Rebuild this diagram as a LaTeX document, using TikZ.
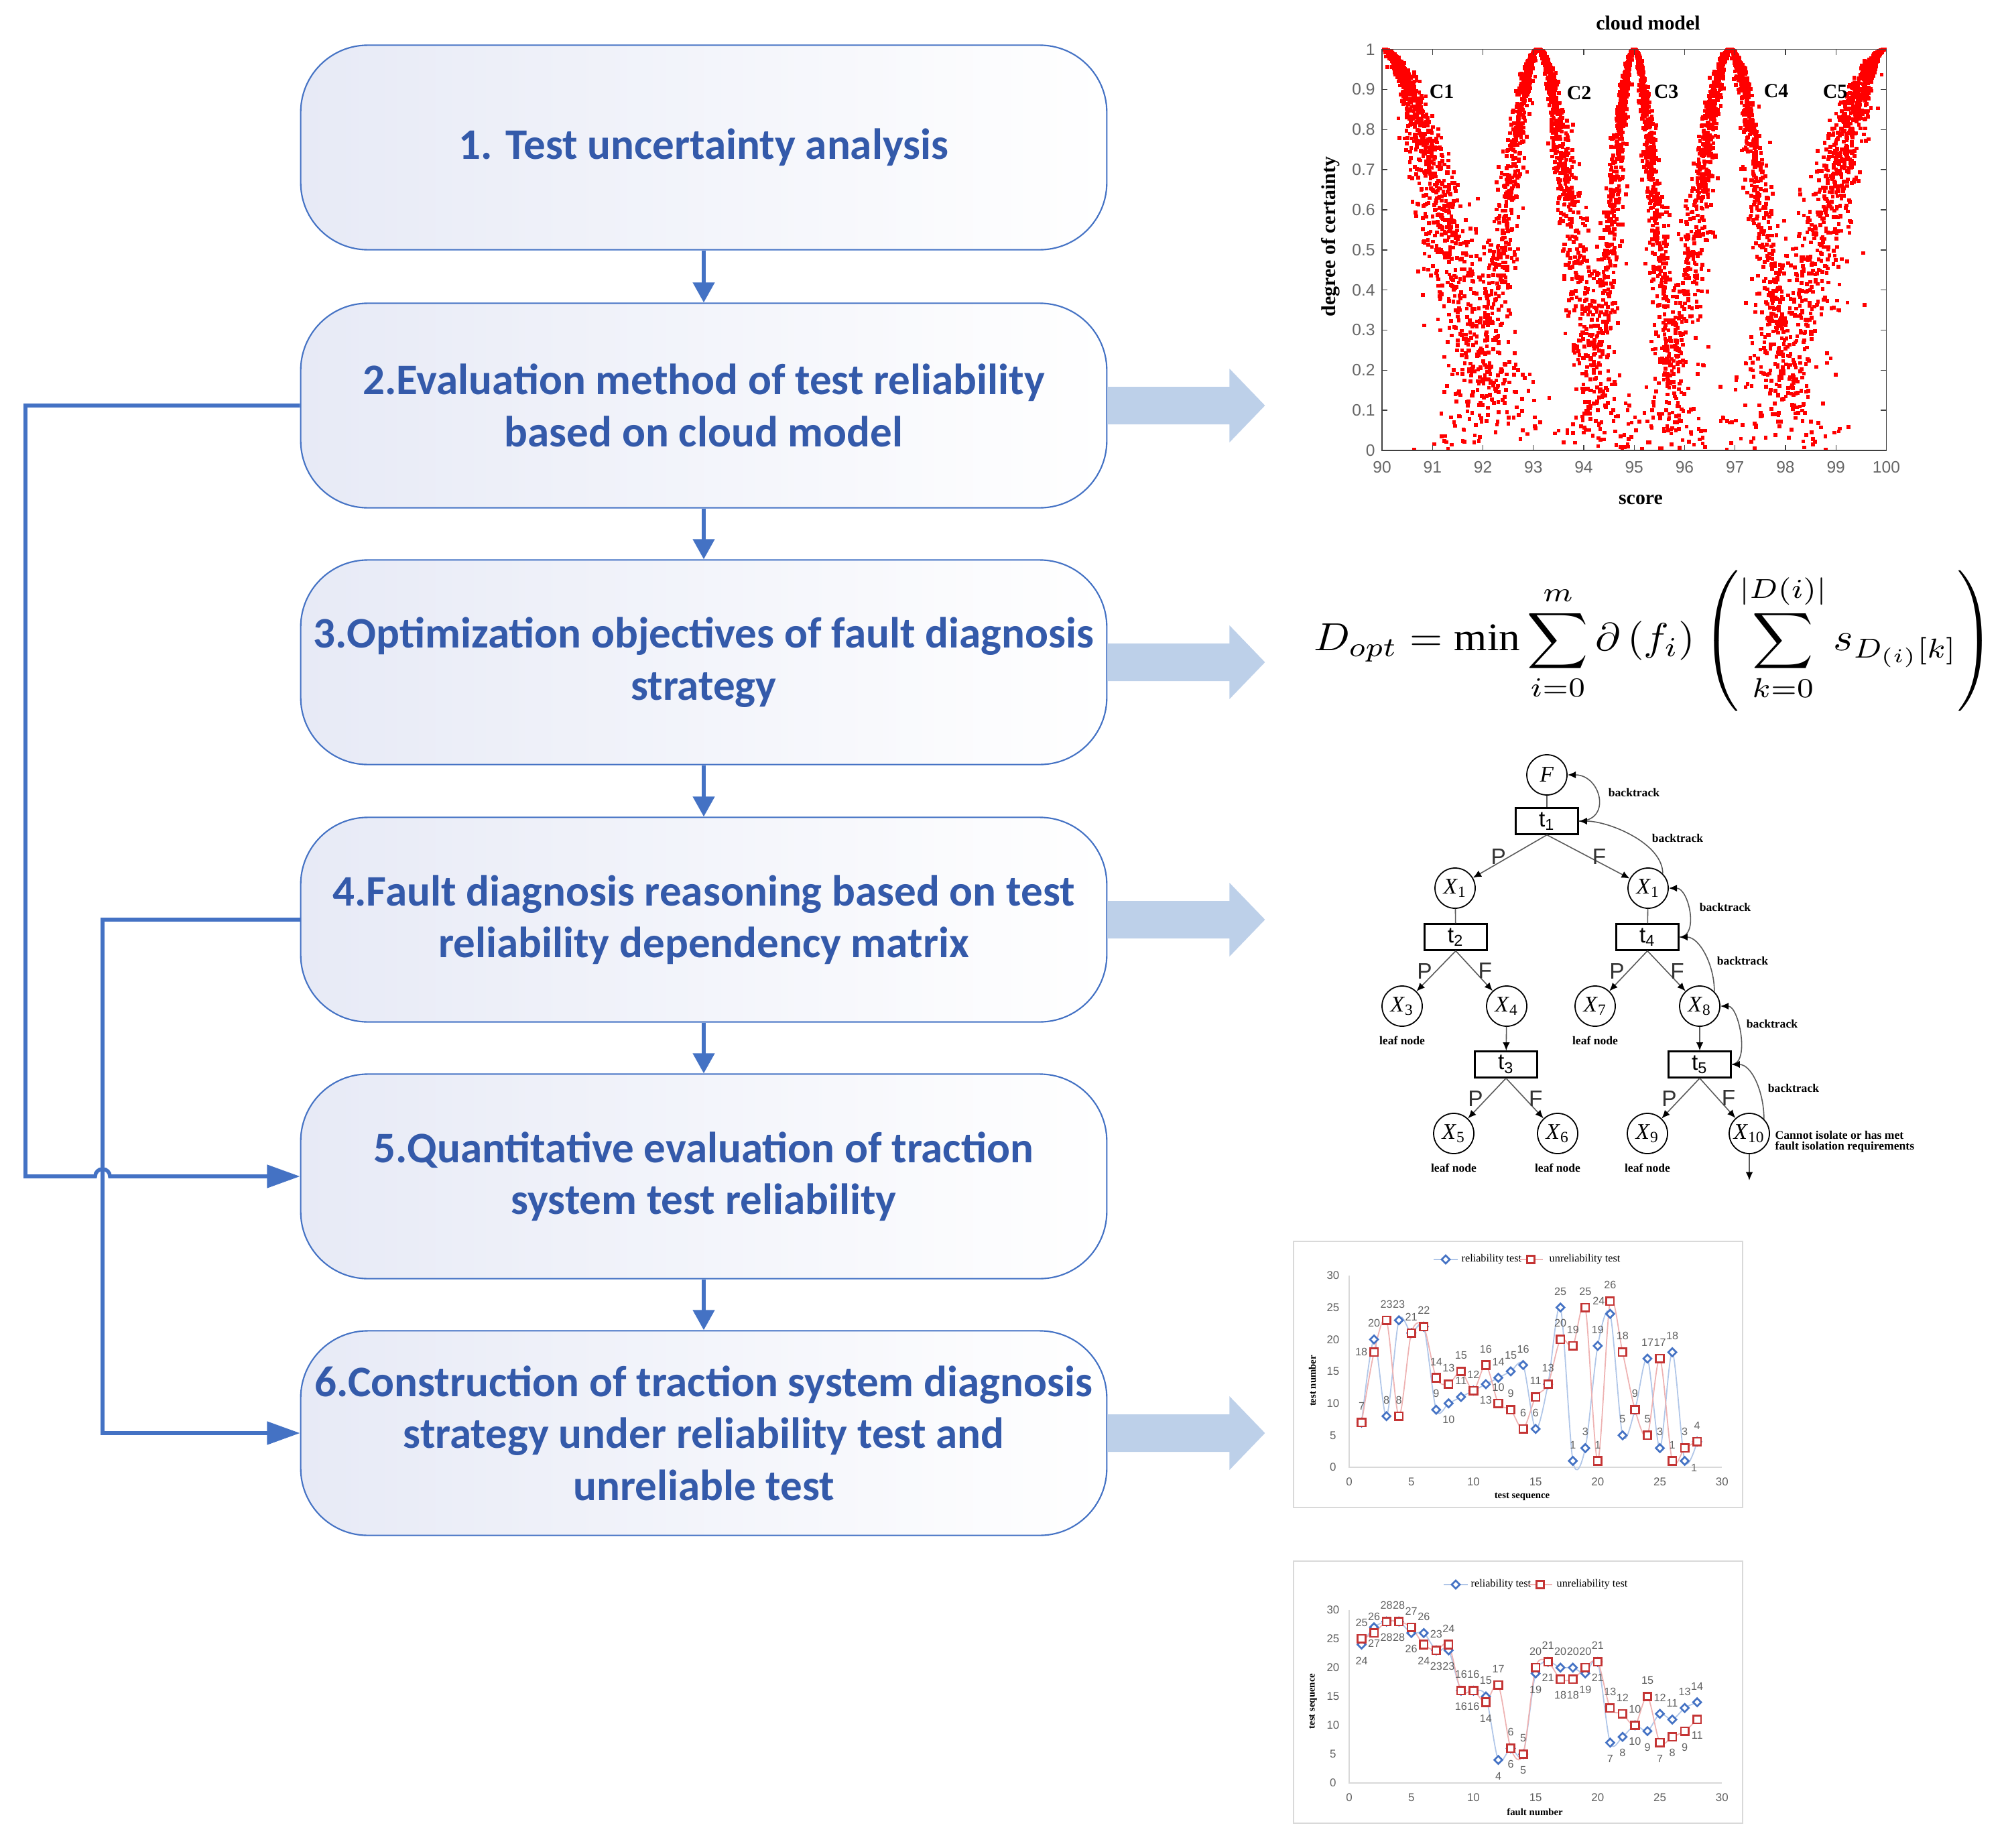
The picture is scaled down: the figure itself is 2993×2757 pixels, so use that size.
\documentclass[tikz,border=0pt]{standalone}
\usepackage{fontspec}
\usepackage{amsmath}
\usepackage{graphicx}
\setmainfont{Liberation Serif}
\newfontfamily\carlito{Carlito}
\newfontfamily\arial{Liberation Sans}
\usetikzlibrary{arrows.meta,shapes.geometric}

\definecolor{flowblue}{RGB}{68,114,196}
\definecolor{boxtext}{RGB}{52,90,170}
\definecolor{boxtop}{RGB}{231,234,246}
\definecolor{bigarrow}{RGB}{189,208,233}
\definecolor{cloudred}{RGB}{255,0,0}
\definecolor{relblue}{RGB}{68,114,196}
\definecolor{relline}{RGB}{176,198,232}
\definecolor{unrred}{RGB}{196,52,52}
\definecolor{unrline}{RGB}{238,178,178}
\definecolor{labgray}{RGB}{96,96,96}
\definecolor{framegray}{RGB}{217,217,217}

\newcommand\xlab[1]{\textit{X}\textsubscript{#1}}
\newcommand\tlab[1]{{\arial t\textsubscript{#1}}}

\tikzset{
  stage/.style={draw=flowblue, line width=0.6pt, rounded corners=1cm,
    left color=boxtop, right color=white, minimum width=12.02cm,
    minimum height=3.05cm, inner sep=0pt, align=center, text=boxtext,
    font=\carlito\bfseries\fontsize{18.5}{22}\selectfont},
  flow/.style={flowblue, line width=1.5pt, -{Triangle[length=8.5pt,width=9pt]}},
  link/.style={flowblue, line width=1.6pt, -{Triangle[length=14pt,width=9.6pt]}},
  bigarrow/.style={fill=bigarrow},
  % nuage
  mframe/.style={draw=black!75, line width=0.4pt},
  mtick/.style={font=\arial\fontsize{7}{7}\selectfont, text=black!60, inner sep=0pt},
  mlab/.style={font=\bfseries\fontsize{8.5}{9}\selectfont, inner sep=0pt},
  % arbre
  cnode/.style={circle, draw, line width=0.5pt, minimum size=0.6cm, inner sep=0pt,
    font=\fontsize{9.5}{10}\selectfont},
  tbox/.style={rectangle, draw, line width=0.6pt, minimum width=0.93cm,
    minimum height=0.39cm, inner sep=0pt, font=\fontsize{9.5}{10}\selectfont},
  leaflab/.style={font=\bfseries\fontsize{5}{5}\selectfont, inner sep=0.5pt},
  leaf/.style={label={[leaflab, label distance=0.12cm]below:leaf node}},
  tline/.style={draw=black!65, line width=0.45pt},
  tarrow/.style={tline, -{Latex[length=3.5pt,width=3pt,color=black]}},
  back/.style={draw=black!65, line width=0.45pt, -{Latex[length=3.5pt,width=3pt,color=black]}},
  blab/.style={font=\bfseries\fontsize{5}{5}\selectfont, inner sep=0pt},
  flab/.style={font=\arial\fontsize{9.5}{10}\selectfont, text=black!80, inner sep=1.5pt},
  % courbes
  chartframe/.style={draw=framegray, line width=0.5pt},
  axisgray/.style={draw=framegray, line width=0.4pt},
  bline/.style={draw=relline, line width=0.5pt},
  rline/.style={draw=unrline, line width=0.5pt},
  bmark/.style={diamond, aspect=1, draw=relblue, fill=white, line width=0.75pt,
    minimum size=0.13cm, inner sep=0pt},
  rmark/.style={rectangle, draw=unrred, fill=white, line width=0.75pt,
    minimum size=0.115cm, inner sep=0pt},
  dlab/.style={font=\arial\fontsize{4.6}{5}\selectfont, text=labgray, inner sep=0pt},
  lp a/.style={yshift=0.24cm},
  lp b/.style={yshift=-0.24cm},
  lp l/.style={xshift=-0.19cm},
  lp al/.style={xshift=-0.17cm, yshift=0.19cm},
  lp br/.style={xshift=0.14cm, yshift=-0.1cm},
  lp n/.style={text opacity=0},
  ctick/.style={font=\arial\fontsize{4.8}{5}\selectfont, text=labgray, inner sep=0pt},
  ctitle/.style={font=\bfseries\fontsize{4.2}{5}\selectfont, inner sep=0pt},
  legtext/.style={font=\fontsize{4.6}{5}\selectfont, inner sep=0pt, anchor=west},
}

\begin{document}
\begin{tikzpicture}[x=0.01cm, y=-0.01cm]
  \useasboundingbox (0,0) rectangle (2993,2757);

  % Les six étapes
  \node[stage] (b1) at (1050,220) {1. Test uncertainty analysis};
  \node[stage] (b2) at (1050,605) {2.Evaluation method of test reliability\\based on cloud model};
  \node[stage] (b3) at (1050,988) {3.Optimization objectives of fault diagnosis\\strategy};
  \node[stage] (b4) at (1050,1372) {4.Fault diagnosis reasoning based on test\\reliability dependency matrix};
  \node[stage] (b5) at (1050,1755) {5.Quantitative evaluation of traction\\system test reliability};
  \node[stage] (b6) at (1050,2138) {6.Construction of traction system diagnosis\\strategy under reliability test and\\unreliable test};

  \foreach \a/\b in {b1/b2,b2/b3,b3/b4,b4/b5,b5/b6}
    \draw[flow] (\a.south) -- (\b.north);

  % Liaisons de gauche
  \coordinate (railA) at (38,0);
  \coordinate (railB) at (153,0);
  \draw[link] (b2.west) -- (b2.west -| railA) -- (railA |- b5.west) -- ++(104,0)
    arc[start angle=180, end angle=360, radius=11] -- (b5.west);
  \draw[link] (b4.west) -- (b4.west -| railB) -- (railB |- b6.west) -- (b6.west);

  % Grosses flèches
  \foreach \b in {b2,b3,b4,b6}
    \fill[bigarrow] (\b.east) ++(0,-28) -- ++(182,0) -- ++(0,-27) -- ++(53,55)
      -- ++(-53,55) -- ++(0,-27) -- ++(-182,0) -- cycle;

  % Modèle de nuage
  \node[mlab] (ctitle) at (2459,34) {cloud model};
  \node[mlab] (cscore) at (2448,746) {score};
  \node[mlab, rotate=90] (cdeg) at (1985,353) {degree of certainty};
  \begin{scope}[shift={(2062,672)}, x=0.752cm, y=5.98cm]
    \begin{scope}[fill=cloudred]
      \clip (0,0) rectangle (10,1.004);
      \pgfmathsetseed{2024}
      \foreach \ex/\en/\sd/\num in {0/1.15/1/1100, 3.1/0.62/0/1450, 5/0.42/0/1350, 6.9/0.62/0/1450, 10/1.15/-1/1100} {
        \foreach \k in {1,...,\num} {
          \pgfmathsetmacro\rr{sqrt(-2*ln(0.0001+0.9999*rnd))}
          \pgfmathsetmacro\aa{360*rnd}
          \pgfmathsetmacro\ga{\rr*cos(\aa)}
          \pgfmathsetmacro\gb{\rr*sin(\aa)}
          \pgfmathsetmacro\gx{\sd==0 ? (\ga) : \sd*abs(\ga)}
          \pgfmathsetmacro\px{\ex+\en*(1+0.22*(\gb))*(\gx)}
          \pgfmathsetmacro\py{exp(-0.5*(\ga)*(\ga))}
          \fill (\px,\py) ++(-0.8pt,-0.8pt) rectangle ++(1.6pt,1.6pt);
        }
      }
    \end{scope}
    \draw[mframe] (0,0) rectangle (10,1);
    \foreach \i in {0,...,10} {
      \draw[mframe] (\i,0) -- (\i,0.0134) (\i,1) -- (\i,0.9866);
      \pgfmathtruncatemacro\sc{90+\i}
      \node[mtick] (sx\i) at (\i,-0.042) {\sc};
    }
    \foreach \j/\t in {0/0,1/0.1,2/0.2,3/0.3,4/0.4,5/0.5,6/0.6,7/0.7,8/0.8,9/0.9,10/1} {
      \draw[mframe] (0,\j/10) -- (0.106,\j/10) (10,\j/10) -- (9.894,\j/10);
      \node[mtick, anchor=east] (sy\j) at (-0.13,\j/10) {\t};
    }
  \end{scope}
  \node[mlab] (c1) at (2151,137) {C1};
  \node[mlab] (c2) at (2356,139) {C2};
  \node[mlab] (c3) at (2486,137) {C3};
  \node[mlab] (c4) at (2650,136) {C4};
  \node[mlab] (c5) at (2738,137) {C5};

  % Formule
  \node[inner sep=0pt] (dopt) at (2468,956) {\resizebox*{10.15cm}{2.1cm}{$\displaystyle
    D_{opt}=\min\sum_{i=0}^{m}\partial\left(f_i\right)\left(\sum_{k=0}^{\left|D(i)\right|}s_{D_{(i)}[k]}\right)$}};

  % Arbre de diagnostic
  \node[cnode] (F) at (2308,1156) {\textit{F}};
  \node[tbox] (t1) at (2308,1225) {\tlab{1}};
  \node[cnode] (x1l) at (2171,1325) {\xlab{1}};
  \node[cnode] (x1r) at (2459,1325) {\xlab{1}};
  \node[tbox] (t2) at (2172,1398) {\tlab{2}};
  \node[tbox] (t4) at (2458,1398) {\tlab{4}};
  \node[cnode, leaf] (x3) at (2092,1501) {\xlab{3}};
  \node[cnode] (x4) at (2248,1501) {\xlab{4}};
  \node[cnode, leaf] (x7) at (2380,1501) {\xlab{7}};
  \node[cnode] (x8) at (2536,1501) {\xlab{8}};
  \node[tbox] (t3) at (2247,1588) {\tlab{3}};
  \node[tbox] (t5) at (2536,1588) {\tlab{5}};
  \node[cnode, leaf] (x5) at (2169,1691) {\xlab{5}};
  \node[cnode, leaf] (x6) at (2324,1691) {\xlab{6}};
  \node[cnode, leaf] (x9) at (2458,1691) {\xlab{9}};
  \node[cnode] (x10) at (2610,1691) {\xlab{10}};
  \coordinate (xout) at (2610,1761);
  \node[blab, anchor=west, align=left, font=\bfseries\fontsize{5}{4.6}\selectfont] (cannot) at (2648,1703)
    {Cannot isolate or has met\\fault isolation requirements};

  \draw[tline] (F) -- (t1);
  \draw[tarrow] (t1.south) -- node[flab, left] {P} (x1l);
  \draw[tarrow] (t1.south) -- node[flab, right] {F} (x1r);
  \draw[tline] (x1l) -- (t2);
  \draw[tarrow] (t2.south) -- node[flab, left] {P} (x3);
  \draw[tarrow] (t2.south) -- node[flab, right] {F} (x4);
  \draw[tarrow] (x4) -- (t3);
  \draw[tarrow] (t3.south) -- node[flab, left] {P} (x5);
  \draw[tarrow] (t3.south) -- node[flab, right] {F} (x6);
  \draw[tline] (x1r) -- (t4);
  \draw[tarrow] (t4.south) -- node[flab, left] {P} (x7);
  \draw[tarrow] (t4.south) -- node[flab, right] {F} (x8);
  \draw[tarrow] (x8) -- (t5);
  \draw[tarrow] (t5.south) -- node[flab, left] {P} (x9);
  \draw[tarrow] (t5.south) -- node[flab, right] {F} (x10);
  \draw[tarrow] (x10) -- (xout);

  % Retours arrière
  \draw[back] (t1.east) .. controls +(50,0) and +(50,0) .. (F.east);
  \draw[back] (x1r.45) .. controls +(0,-45) and +(45,0) .. (t1.east);
  \draw[back] (t4.east) .. controls +(30,0) and +(30,0) .. (x1r.east);
  \draw[back] (x8.45) .. controls +(0,-40) and +(30,0) .. (t4.east);
  \draw[back] (t5.east) .. controls +(28,0) and +(28,0) .. (x8.east);
  \draw[back] (x10.45) .. controls +(0,-40) and +(30,0) .. (t5.east);
  \node[blab] (bk1) at (2438,1182) {backtrack};
  \node[blab] (bk2) at (2503,1250) {backtrack};
  \node[blab] (bk3) at (2574,1353) {backtrack};
  \node[blab] (bk4) at (2600,1433) {backtrack};
  \node[blab] (bk5) at (2644,1527) {backtrack};
  \node[blab] (bk6) at (2676,1623) {backtrack};

  % Première courbe
  \draw[chartframe] (1930,1852) rectangle (2600,2249);
  \draw[bline] (2139,1879) -- (2175,1879);
  \node[bmark] (lgb1) at (2157,1879) {};
  \node[legtext] (lgbt1) at (2180,1879) {reliability test};
  \draw[rline] (2266,1879) -- (2302,1879);
  \node[rmark] (lgr1) at (2284,1879) {};
  \node[legtext] (lgrt1) at (2311,1879) {unreliability test};
  \node[ctitle] (ax1) at (2271,2233) {test sequence};
  \node[ctitle, rotate=90] (ay1) at (1958,2060) {test number};
  \begin{scope}[shift={(2013,2189)}, x=0.1853cm, y=0.0953cm]
    \draw[axisgray] (0,30) -- (0,0) -- (30,0);
    \foreach \v in {0,5,...,30} {
      \node[ctick] (ty\v) at (-1.3,\v) {\v};
      \node[ctick] (tx\v) at (\v,-2.3) {\v};
    }
    \draw[bline] plot[smooth, tension=0.5] coordinates {(1,7) (2,20) (3,8) (4,23) (5,21) (6,22) (7,9) (8,10) (9,11) (10,12) (11,13) (12,14) (13,15) (14,16) (15,6) (16,13) (17,25) (18,1) (19,3) (20,19) (21,24) (22,5) (23,9) (24,17) (25,3) (26,18) (27,1) (28,4)};
    \draw[rline] plot[smooth, tension=0.5] coordinates {(1,7) (2,18) (3,23) (4,8) (5,21) (6,22) (7,14) (8,13) (9,15) (10,12) (11,16) (12,10) (13,9) (14,6) (15,11) (16,13) (17,20) (18,19) (19,25) (20,1) (21,26) (22,18) (23,9) (24,5) (25,17) (26,1) (27,3) (28,4)};
    \foreach \k/\vb/\vr/\pb/\pr in {1/7/7/n/a, 2/20/18/a/l, 3/8/23/a/a, 4/23/8/a/a, 5/21/21/n/a, 6/22/22/n/a, 7/9/14/a/a, 8/10/13/b/a, 9/11/15/a/a, 10/12/12/n/a, 11/13/16/b/a, 12/14/10/a/a, 13/15/9/a/a, 14/16/6/a/a, 15/6/11/a/a, 16/13/13/n/a, 17/25/20/a/a, 18/1/19/a/a, 19/3/25/a/a, 20/19/1/a/a, 21/24/26/al/a, 22/5/18/a/a, 23/9/9/n/a, 24/17/5/a/a, 25/3/17/a/a, 26/18/1/a/a, 27/1/3/br/a, 28/4/4/n/a} {
      \node[bmark] (ab\k) at (\k,\vb) {};
      \node[rmark] (ar\k) at (\k,\vr) {};
      \node[dlab, lp \pb] (abl\k) at (\k,\vb) {\vb};
      \node[dlab, lp \pr] (arl\k) at (\k,\vr) {\vr};
    }
  \end{scope}

  % Seconde courbe
  \draw[chartframe] (1930,2329) rectangle (2600,2720);
  \draw[bline] (2154,2364) -- (2190,2364);
  \node[bmark] (lgb2) at (2172,2364) {};
  \node[legtext] (lgbt2) at (2194,2364) {reliability test};
  \draw[rline] (2280,2364) -- (2316,2364);
  \node[rmark] (lgr2) at (2298,2364) {};
  \node[legtext] (lgrt2) at (2322,2364) {unreliability test};
  \node[ctitle] (ax2) at (2290,2703) {fault number};
  \node[ctitle, rotate=90] (ay2) at (1959,2538) {test sequence};
  \begin{scope}[shift={(2013,2660)}, x=0.1853cm, y=0.086cm]
    \draw[axisgray] (0,30) -- (0,0) -- (30,0);
    \foreach \v in {0,5,...,30} {
      \node[ctick] (uy\v) at (-1.3,\v) {\v};
      \node[ctick] (ux\v) at (\v,-2.56) {\v};
    }
    \draw[bline] plot[smooth, tension=0.5] coordinates {(1,24) (2,27) (3,28) (4,28) (5,26) (6,26) (7,23) (8,23) (9,16) (10,16) (11,15) (12,4) (13,6) (14,5) (15,19) (16,21) (17,20) (18,20) (19,19) (20,21) (21,7) (22,8) (23,10) (24,9) (25,12) (26,11) (27,13) (28,14)};
    \draw[rline] plot[smooth, tension=0.5] coordinates {(1,25) (2,26) (3,28) (4,28) (5,27) (6,24) (7,23) (8,24) (9,16) (10,16) (11,14) (12,17) (13,6) (14,5) (15,20) (16,21) (17,18) (18,18) (19,20) (20,21) (21,13) (22,12) (23,10) (24,15) (25,7) (26,8) (27,9) (28,11)};
    \foreach \k/\vb/\vr/\pb/\pr in {1/24/25/b/a, 2/27/26/b/a, 3/28/28/b/a, 4/28/28/b/a, 5/26/27/b/a, 6/26/24/a/b, 7/23/23/b/a, 8/23/24/b/a, 9/16/16/b/a, 10/16/16/b/a, 11/15/14/a/b, 12/4/17/b/a, 13/6/6/b/a, 14/5/5/b/a, 15/19/20/b/a, 16/21/21/b/a, 17/20/18/a/b, 18/20/18/a/b, 19/19/20/b/a, 20/21/21/b/a, 21/7/13/b/a, 22/8/12/b/a, 23/10/10/b/a, 24/9/15/b/a, 25/12/7/a/b, 26/11/8/a/b, 27/13/9/a/b, 28/14/11/a/b} {
      \node[bmark] (cb\k) at (\k,\vb) {};
      \node[rmark] (cr\k) at (\k,\vr) {};
      \node[dlab, lp \pb] (cbl\k) at (\k,\vb) {\vb};
      \node[dlab, lp \pr] (crl\k) at (\k,\vr) {\vr};
    }
  \end{scope}
\end{tikzpicture}
\end{document}
